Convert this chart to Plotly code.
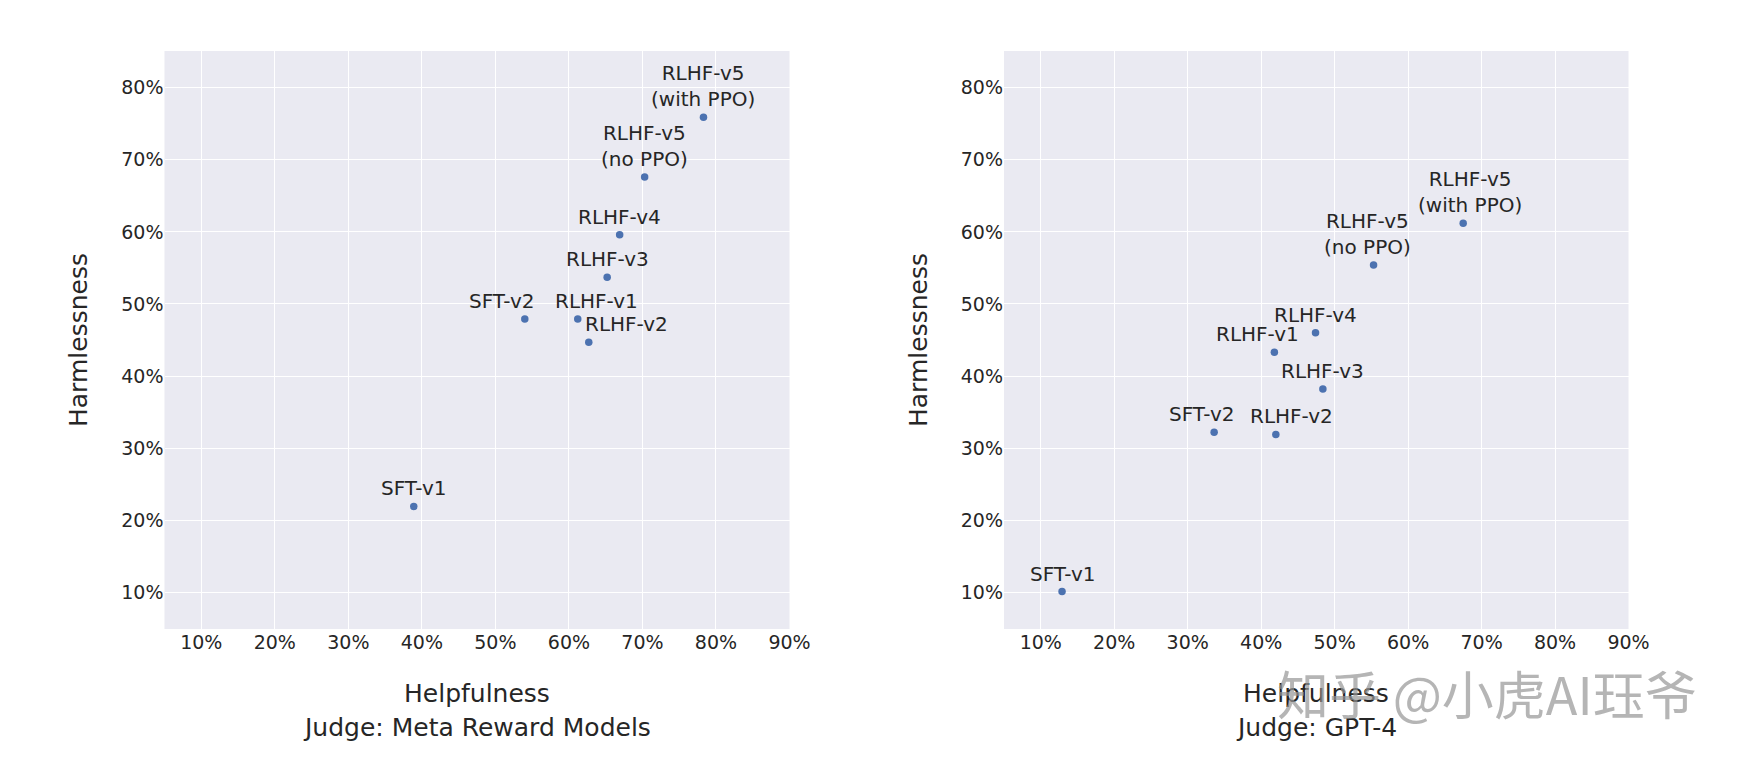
import plotly.graph_objects as go

# ---- data ----
models = ["SFT-v1", "SFT-v2", "RLHF-v1", "RLHF-v2", "RLHF-v3", "RLHF-v4",
          "RLHF-v5<br>(no PPO)", "RLHF-v5<br>(with PPO)"]

meta_helpfulness = [0.389, 0.540, 0.612, 0.627, 0.652, 0.669, 0.703, 0.783]
meta_harmlessness = [0.219, 0.479, 0.479, 0.447, 0.537, 0.596, 0.676, 0.759]

gpt4_helpfulness = [0.129, 0.336, 0.418, 0.420, 0.484, 0.474, 0.553, 0.675]
gpt4_harmlessness = [0.101, 0.322, 0.433, 0.319, 0.382, 0.460, 0.554, 0.612]

x_ticks = [0.1, 0.2, 0.3, 0.4, 0.5, 0.6, 0.7, 0.8, 0.9]
y_ticks = [0.1, 0.2, 0.3, 0.4, 0.5, 0.6, 0.7, 0.8]

# label x-offsets in px (layout only)
meta_dx = [0, -23, 19, 38, 0, 0, 0, 0]
gpt4_dx = [0, -13, -17, 16, 0, 0, -6, 7]

OFF = 8  # default page body margin
W, H = 1740 - 2 * OFF, 762 - 2 * OFF
TXT = "#262626"
BG = "#EAEAF2"
BLUE = "#4C72B0"
FONT = "DejaVu Sans"

fig = go.Figure()

panels = [
    (meta_helpfulness, meta_harmlessness, meta_dx, "x", "y"),
    (gpt4_helpfulness, gpt4_harmlessness, gpt4_dx, "x2", "y2"),
]
for xs, ys, dxs, xa, ya in panels:
    fig.add_trace(go.Scatter(x=xs, y=ys, mode="markers", xaxis=xa, yaxis=ya,
                             marker=dict(color=BLUE, size=7.5), showlegend=False,
                             hoverinfo="skip"))
    for name, xv, yv, dx in zip(models, xs, ys, dxs):
        two = "<br>" in name
        fig.add_annotation(x=xv, y=yv, xref=xa, yref=ya, text=name,
                           showarrow=False, xanchor="center", yanchor="middle",
                           xshift=dx, yshift=31 if two else 18,
                           font=dict(family=FONT, size=20, color=TXT))

def px_x(p):
    return (p - OFF) / W

def px_y(p):
    return 1 - (p - OFF) / H

ydom = [px_y(629), px_y(51)]
axis_common = dict(showgrid=True, gridcolor="white", gridwidth=1.3, zeroline=False,
                   showline=False, ticks="", tickformat=".0%",
                   tickfont=dict(family=FONT, size=19, color=TXT), automargin=False)

fig.update_layout(
    width=W, height=H, margin=dict(l=0, r=0, t=0, b=0),
    paper_bgcolor="white", plot_bgcolor=BG,
    xaxis=dict(domain=[px_x(164.5), px_x(789.5)], range=[0.05, 0.90], tickvals=x_ticks,
               anchor="y", **axis_common),
    yaxis=dict(domain=ydom, range=[0.049, 0.851], tickvals=y_ticks, anchor="x",
               **axis_common),
    xaxis2=dict(domain=[px_x(1004), px_x(1628.5)], range=[0.05, 0.90], tickvals=x_ticks,
                anchor="y2", **axis_common),
    yaxis2=dict(domain=ydom, range=[0.049, 0.851], tickvals=y_ticks, anchor="x2",
                **axis_common),
)

# axis titles
title_font = dict(family=FONT, size=25, color=TXT)
for cx, judge in [(477, "Judge: Meta Reward Models"), (1316, "Judge: GPT-4")]:
    fig.add_annotation(x=px_x(cx), y=px_y(693.5), xref="paper", yref="paper",
                       text="Helpfulness", showarrow=False, xanchor="center",
                       yanchor="middle", font=title_font)
    fig.add_annotation(x=px_x(cx), y=px_y(727), xref="paper", yref="paper",
                       text=judge, showarrow=False, xanchor="center",
                       yanchor="middle", font=title_font)
for cx in [78, 918]:
    fig.add_annotation(x=px_x(cx), y=px_y(340), xref="paper", yref="paper",
                       text="Harmlessness", showarrow=False, textangle=-90,
                       xanchor="center", yanchor="middle", font=title_font)

# watermark
fig.add_annotation(x=px_x(1487), y=px_y(692), xref="paper", yref="paper",
                   text="知乎 @小虎AI珏爷", showarrow=False, xanchor="center",
                   yanchor="middle",
                   font=dict(family="Noto Sans CJK SC", size=52,
                             color="rgba(150,150,150,0.7)"))

fig.write_html("out.html")
